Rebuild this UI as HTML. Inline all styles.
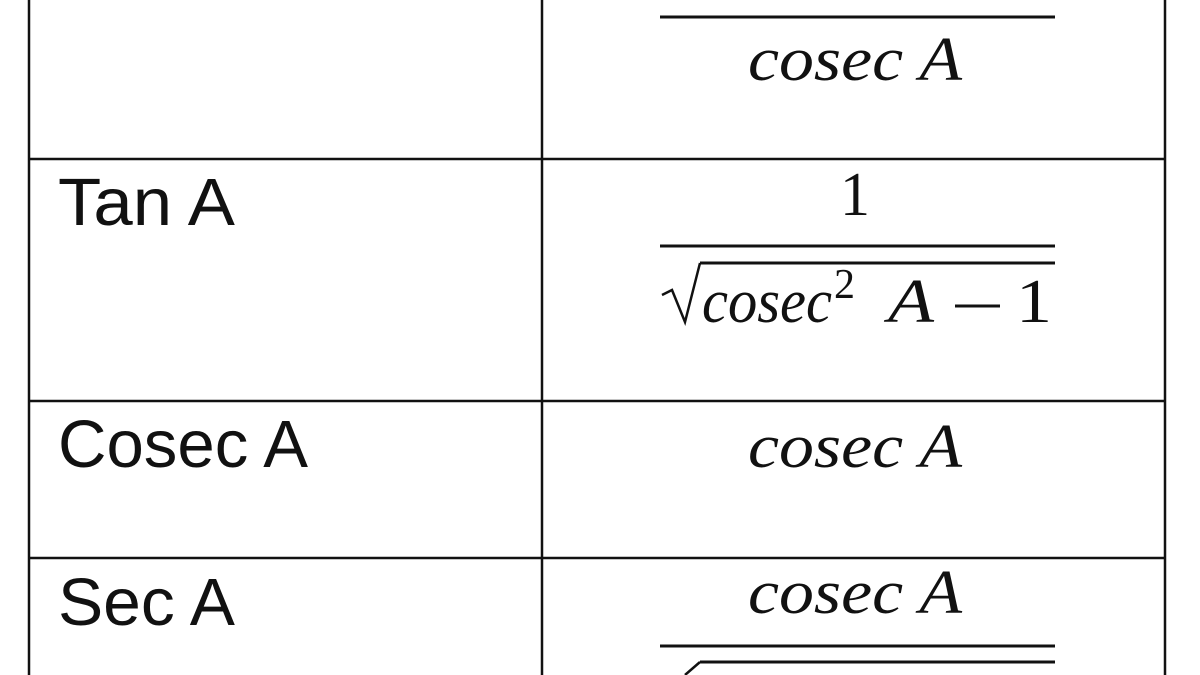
<!DOCTYPE html>
<html><head><meta charset="utf-8"><style>
html,body{margin:0;padding:0;background:#fff;width:1200px;height:675px;overflow:hidden}
svg{display:block}
.l{font-family:"Liberation Sans",Arial,sans-serif;font-size:67px;fill:#111}
.m{font-family:"Liberation Serif",serif;font-style:italic;font-size:62px;fill:#111}
.n{font-family:"Liberation Serif",serif;font-size:62px;fill:#111}
</style></head><body>
<svg width="1200" height="675" viewBox="0 0 1200 675">
<g stroke="#111" stroke-width="2.5" fill="none">
<line x1="29" y1="0" x2="29" y2="675"/>
<line x1="542" y1="0" x2="542" y2="675"/>
<line x1="1165" y1="0" x2="1165" y2="675"/>
<line x1="29" y1="159" x2="1165" y2="159"/>
<line x1="29" y1="401" x2="1165" y2="401"/>
<line x1="29" y1="558" x2="1165" y2="558"/>
<line x1="660" y1="17" x2="1055" y2="17" stroke-width="3"/>
<line x1="660" y1="246" x2="1055" y2="246" stroke-width="3"/>
<line x1="700" y1="263" x2="1055" y2="263" stroke-width="3"/>
<polyline points="662,295 672,290 685,322 700,263" stroke-width="2.5"/>
<line x1="955" y1="306" x2="1000" y2="306" stroke-width="3"/>
<line x1="660" y1="646" x2="1055" y2="646" stroke-width="3"/>
<line x1="700" y1="662" x2="1055" y2="662" stroke-width="3"/>
<polyline points="685,675 700,662" stroke-width="2.5"/>
</g>
<text class="m" x="748" y="80" textLength="214" lengthAdjust="spacingAndGlyphs">cosec A</text>
<text class="l" x="58" y="225" textLength="177" lengthAdjust="spacingAndGlyphs">Tan A</text>
<text class="n" x="840" y="215" textLength="30" lengthAdjust="spacingAndGlyphs">1</text>
<text class="m" x="702" y="322" textLength="130" lengthAdjust="spacingAndGlyphs">cosec</text>
<text class="n" x="834" y="298" style="font-size:42px">2</text>
<text class="m" x="888" y="322" textLength="46" lengthAdjust="spacingAndGlyphs">A</text>
<text class="n" x="1016" y="322" textLength="36" lengthAdjust="spacingAndGlyphs">1</text>
<text class="l" x="58" y="467" textLength="250" lengthAdjust="spacingAndGlyphs">Cosec A</text>
<text class="m" x="748" y="467" textLength="214" lengthAdjust="spacingAndGlyphs">cosec A</text>
<text class="l" x="58" y="625" textLength="177" lengthAdjust="spacingAndGlyphs">Sec A</text>
<text class="m" x="748" y="613" textLength="214" lengthAdjust="spacingAndGlyphs">cosec A</text>
</svg>
</body></html>
